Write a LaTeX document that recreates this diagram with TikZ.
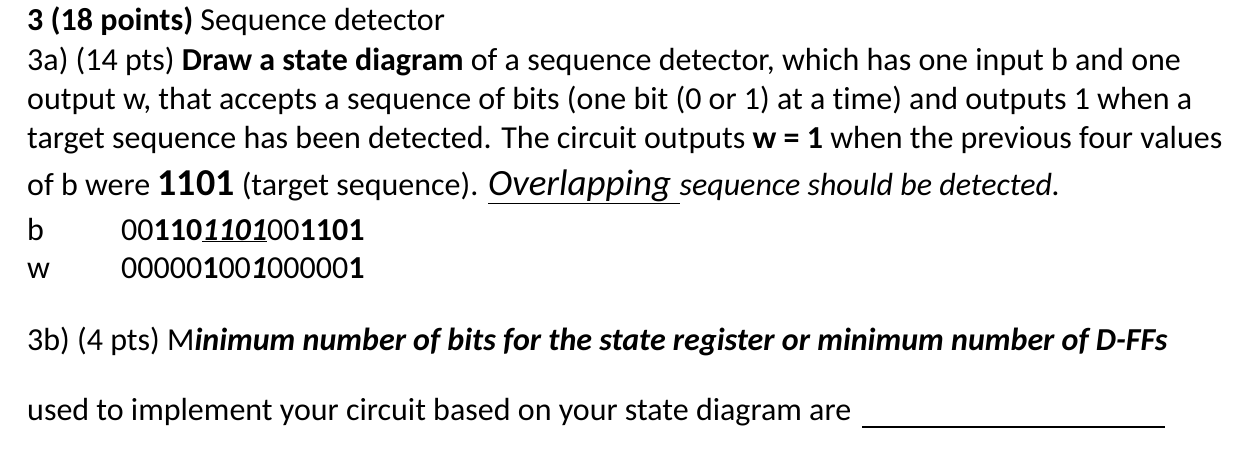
\documentclass[tikz,border=0pt]{standalone}
\usepackage{fontspec}
\setmainfont[Ligatures=NoCommon]{Carlito}
\begin{document}
\begin{tikzpicture}[x=1pt,y=-1pt,
  txt/.style={anchor=base west,inner sep=0pt,font=\fontsize{32}{38}\selectfont}]
\useasboundingbox[fill=white] (0,0) rectangle (1243,469);
\node[txt] (l1) at (27,30) {\textbf{3 (18 points)} Sequence detector};
\node[txt] (l2) at (27,70) {3a) (14 pts) \textbf{Draw a state diagram} of a sequence detector, which has one input b and one};
\node[txt] (l3) at (27,109) {output w, that accepts a sequence of bits (one bit (0 or 1) at a time) and outputs 1 when a};
\node[txt] (l4) at (27,148) {target sequence has been detected. The circuit outputs \textbf{w = 1} when the previous four values};
\node[txt] (l5) at (27,195) {of b were {\fontsize{38}{42}\selectfont\textbf{1101}} (target sequence). {\fontsize{37}{42}\selectfont\textit{\underline{Overlapping }}}\textit{sequence should be detected.}};
\node[txt] (bl) at (27,240) {b};
\node[txt] (bv) at (121,240) {00\textbf{110}\underline{\textbf{\textit{1101}}}00\textbf{1101}};
\node[txt] (wl) at (27,278) {w};
\node[txt] (wv) at (121,278) {00000\textbf{1}00\textbf{\textit{1}}00000\textbf{1}};
\node[txt] (l6) at (27,350) {3b) (4 pts) M\textbf{\textit{inimum number of bits for the state register or minimum number of D-FFs}}};
\node[txt] (l7) at (27,420) {used to implement your circuit based on your state diagram are};
\coordinate (u1) at (862,427);
\coordinate (u2) at (1165,427);
\draw[line width=1.2pt] (u1) -- (u2);
\end{tikzpicture}
\end{document}
